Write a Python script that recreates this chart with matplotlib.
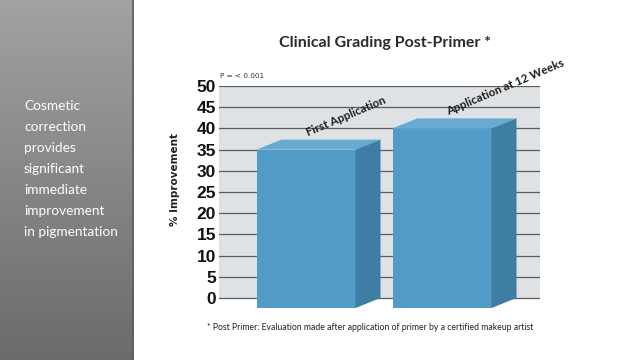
import numpy as np
import matplotlib
matplotlib.use("Agg")
import matplotlib.pyplot as plt
from matplotlib.patches import Polygon, Rectangle
from matplotlib.colors import LinearSegmentedColormap

# ---- data ----
categories = ["First Application", "Application at 12 Weeks"]
values = [35, 40]
yticks = [0, 5, 10, 15, 20, 25, 30, 35, 40, 45, 50]
title = "Clinical Grading Post-Primer *"
ylabel = "% Improvement"
pvalue_note = "P = < 0.001"
footnote = "* Post Primer: Evaluation made after application of primer by a certified makeup artist"
side_lines = ["Cosmetic", "correction", "provides", "significant",
              "immediate", "improvement", "in pigmentation"]

W, H = 640, 360
fig = plt.figure(figsize=(6.4, 3.6), dpi=100)
fig.patch.set_facecolor("white")

def fx(px):
    return px / W

def fy(py):
    return 1 - py / H

# ---- left gray panel ----
pax = fig.add_axes([0, 0, fx(134), 1])
cmap = LinearSegmentedColormap.from_list("g", ["#a2a2a2", "#6b6b6b"])
grad = np.linspace(0, 1, 256).reshape(-1, 1)
pax.imshow(grad, aspect="auto", cmap=cmap, extent=[0, 1, 1, 0])
pax.axvline(0.99, color="#5e5e5e", lw=1.2)
pax.set_xlim(0, 1)
pax.set_ylim(1, 0)
pax.axis("off")
for i, line in enumerate(side_lines):
    fig.text(fx(24), fy(106 + 21 * i), line, color="white", fontsize=9.8,
             family="Lato", va="center", ha="left")

# ---- main chart ----
px_per_unit = 212 / 50.0
ylo = -(310.7 - 298) / px_per_unit
ax_bottom = fy(310.7)
ax_top = fy(86)
x0_px, x1_px = 219, 540
ax = fig.add_axes([fx(x0_px), ax_bottom, fx(x1_px - x0_px), ax_top - ax_bottom])
ax.set_facecolor("none")

xpx_unit = 136.0
xlim_lo = -(306 - 219) / xpx_unit
xlim_hi = 1 + (540 - 442) / xpx_unit
ax.set_xlim(xlim_lo, xlim_hi)
ax.set_ylim(ylo, 50)

# background panel
ax.add_patch(Rectangle((xlim_lo, 0), xlim_hi - xlim_lo, 50, facecolor="#dfe2e5",
                       edgecolor="none", zorder=0))
for t in yticks:
    ax.axhline(t, color="#5c5c5c", lw=0.9, zorder=1)

x = np.arange(len(categories))
bw = 99 / xpx_unit
dx = 25 / xpx_unit
dy = 10 / px_per_unit
base = -dy
front_c = "#519dc8"
top_c = "#66abd2"
side_c = "#3f7ea4"
ax.bar(x, [v - base for v in values], bottom=base, width=bw, color=front_c,
       edgecolor="none", zorder=3)
for xi, v in zip(x, values):
    l, r = xi - bw / 2, xi + bw / 2
    ax.add_patch(Polygon([(l, v), (r, v), (r + dx, v + dy), (l + dx, v + dy)],
                         closed=True, facecolor=top_c, edgecolor="none", zorder=3,
                         clip_on=False))
    ax.add_patch(Polygon([(r, base), (r, v), (r + dx, v + dy), (r + dx, base + dy)],
                         closed=True, facecolor=side_c, edgecolor="none", zorder=3,
                         clip_on=False))

# category labels (rotated above bars)
label_pos = [(346, 116), (505, 87)]
for (lx, ly), cat in zip(label_pos, categories):
    fig.text(fx(lx), fy(ly), cat, rotation=23, rotation_mode="anchor",
             ha="center", va="center", fontsize=8.3, family="Lato",
             fontweight="bold", fontstyle="normal", color="#1a1a1a")

ax.set_yticks(yticks)
ax.set_yticklabels([str(t) for t in yticks], fontsize=12.5, fontweight="bold",
                   family="Liberation Sans", color="#111111")
ax.tick_params(axis="y", length=0, pad=2)
ax.set_xticks([])
for s in ax.spines.values():
    s.set_visible(False)

fig.text(fx(175), fy(179), ylabel, rotation=90, ha="center", va="center",
         fontsize=7.5, fontweight="bold", family="DejaVu Sans", color="#222222")
fig.text(fx(385), fy(43), title, ha="center", va="center", fontsize=11.5,
         family="Lato", fontweight="bold", color="#2a2a2a")
fig.text(fx(220), fy(76), pvalue_note, ha="left", va="center", fontsize=5.2,
         family="DejaVu Sans", color="#333333")
fig.text(fx(370), fy(327), footnote, ha="center", va="center", fontsize=6.2,
         family="Lato", color="#222222")

fig.savefig("out.png", dpi=100)
